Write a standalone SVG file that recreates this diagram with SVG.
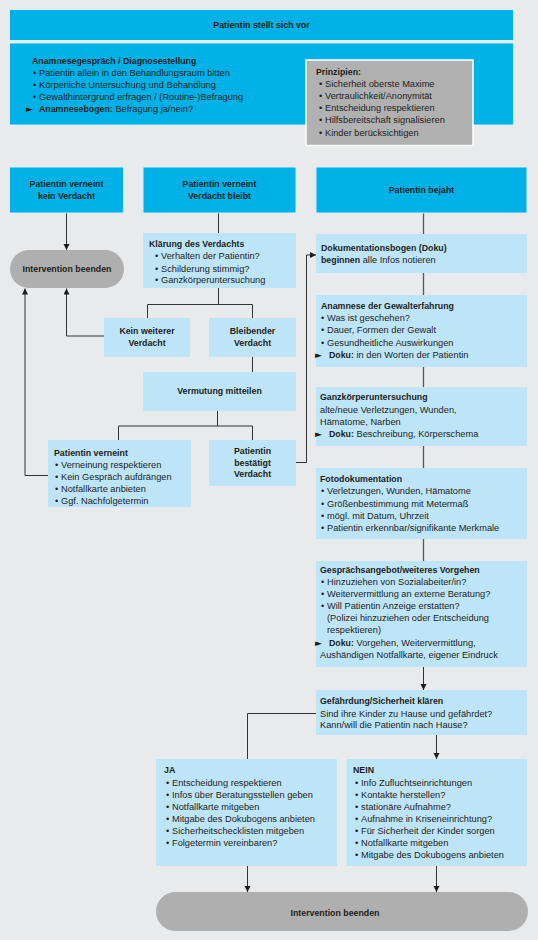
<svg xmlns="http://www.w3.org/2000/svg" width="538" height="940" viewBox="0 0 538 940">
<defs>
<style>
.bg{fill:#e9eaec}
.cy{fill:#00b1e8;stroke:#d6eef8;stroke-width:1}
.lb{fill:#bee5f7}
.gr{fill:#afafb0}
.pr{fill:#b1b1b2;stroke:#ffffff;stroke-width:1.5}
text{font-family:"Liberation Sans",Arial,sans-serif;font-size:9.25px;fill:#1d1d1b}
.b{font-weight:bold;font-size:8.8px}
.m{text-anchor:middle}
.ar{font-family:"DejaVu Sans",sans-serif;font-size:9px}
.ln{fill:none;stroke:#333;stroke-width:1}
.lg{fill:none;stroke:#555;stroke-width:1.3}
</style>
<marker id="ah" markerUnits="userSpaceOnUse" markerWidth="7" markerHeight="7" refX="6" refY="3" orient="auto">
<path d="M0,0 L6,3 L0,6 z" fill="#1d1d1b"/>
</marker>
</defs>
<rect class="bg" x="0" y="0" width="538" height="940"/>

<g id="connectors">
<path class="ln" d="M66.5,213 V250" marker-end="url(#ah)"/>
<path class="ln" d="M218.5,213 V233"/>
<path class="ln" d="M218.5,288 V304.5 M147.5,318 V304.5 H252.5 V318"/>
<path class="ln" d="M104,336 H66.5 V288.5" marker-end="url(#ah)"/>
<path class="ln" d="M252.5,357 V372"/>
<path class="ln" d="M217.5,411 V426 M118.5,440 V426 H252.5 V440"/>
<path class="ln" d="M48,475.5 H25 V288.5" marker-end="url(#ah)"/>
<path class="ln" d="M296,462.5 H306.5 V255 H316" marker-end="url(#ah)"/>
<path class="lg" d="M423.5,213 V234 M423.5,273 V295 M423.5,367 V387 M423.5,446 V468 M423.5,539 V561"/>
<path class="ln" d="M423.5,667 V690" marker-end="url(#ah)"/>
<path class="ln" d="M316,713.5 H247.5 V759"/>
<path class="ln" d="M436.5,735 V759" marker-end="url(#ah)"/>
<path class="ln" d="M247.5,866 V892" marker-end="url(#ah)"/>
<path class="ln" d="M436.5,866 V892" marker-end="url(#ah)"/>
</g>

<g id="start">
<rect class="cy" x="9.5" y="9.5" width="504" height="31"/>
<text class="b m" x="261.5" y="28.3">Patientin stellt sich vor</text>
</g>

<g id="anamnese">
<rect class="cy" x="9.5" y="43" width="504" height="82"/>
<text class="b" x="32" y="64">Anamnesegespräch / Diagnosestellung</text>
<text x="33" y="75.6">•</text><text x="39" y="75.6">Patientin allein in den Behandlungsraum bitten</text>
<text x="33" y="87.6">•</text><text x="39" y="87.6">Körperliche Untersuchung und Behandlung</text>
<text x="33" y="100">•</text><text x="39" y="100">Gewalthintergrund erfragen / (Routine-)Befragung</text>
<text class="ar" x="26" y="112.2">►</text><text x="39" y="112"><tspan class="b">Anamnesebogen:</tspan> Befragung ja/nein?</text>
</g>

<g id="prinzipien">
<rect class="pr" x="306" y="60" width="167" height="85.5"/>
<text class="b" x="316" y="74.5">Prinzipien:</text>
<text x="319" y="86.6">•</text><text x="325" y="86.6">Sicherheit oberste Maxime</text>
<text x="319" y="99">•</text><text x="325" y="99">Vertraulichkeit/Anonymität</text>
<text x="319" y="111">•</text><text x="325" y="111">Entscheidung respektieren</text>
<text x="319" y="123.3">•</text><text x="325" y="123.3">Hilfsbereitschaft signalisieren</text>
<text x="319" y="135.6">•</text><text x="325" y="135.6">Kinder berücksichtigen</text>
</g>

<g id="verneint-kein">
<rect class="cy" x="9.5" y="167" width="114" height="46"/>
<text class="b m" x="66.5" y="187.3">Patientin verneint</text>
<text class="b m" x="66.5" y="198.8">kein Verdacht</text>
</g>

<g id="verneint-bleibt">
<rect class="cy" x="143" y="167" width="153" height="46"/>
<text class="b m" x="219.5" y="187.3">Patientin verneint</text>
<text class="b m" x="219.5" y="198.8">Verdacht bleibt</text>
</g>

<g id="bejaht">
<rect class="cy" x="316" y="167" width="211" height="46"/>
<text class="b m" x="421.5" y="193.3">Patientin bejaht</text>
</g>

<g id="intervention-top">
<rect class="gr" x="10" y="250" width="114" height="38" rx="19"/>
<text class="b m" x="67" y="272.3">Intervention beenden</text>
</g>

<g id="klaerung">
<rect class="lb" x="143" y="233" width="153" height="55"/>
<text class="b" x="149" y="246.6">Klärung des Verdachts</text>
<text x="155" y="259.3">•</text><text x="161" y="259.3">Verhalten der Patientin?</text>
<text x="155" y="271.6">•</text><text x="161" y="271.6">Schilderung stimmig?</text>
<text x="155" y="283.3">•</text><text x="161" y="283.3">Ganzkörperuntersuchung</text>
</g>

<g id="kein-weiterer">
<rect class="lb" x="104" y="318" width="86" height="39"/>
<text class="b m" x="147" y="334.3">Kein weiterer</text>
<text class="b m" x="147" y="346">Verdacht</text>
</g>

<g id="bleibender">
<rect class="lb" x="209" y="318" width="87" height="39"/>
<text class="b m" x="252.5" y="334.3">Bleibender</text>
<text class="b m" x="252.5" y="346">Verdacht</text>
</g>

<g id="vermutung">
<rect class="lb" x="143" y="372" width="153" height="39"/>
<text class="b m" x="219.5" y="394.3">Vermutung mitteilen</text>
</g>

<g id="patientin-verneint">
<rect class="lb" x="48" y="440" width="143" height="67"/>
<text class="b" x="54" y="455.6">Patientin verneint</text>
<text x="55" y="467.6">•</text><text x="61" y="467.6">Verneinung respektieren</text>
<text x="55" y="479.6">•</text><text x="61" y="479.6">Kein Gespräch aufdrängen</text>
<text x="55" y="492">•</text><text x="61" y="492">Notfallkarte anbieten</text>
<text x="55" y="504">•</text><text x="61" y="504">Ggf. Nachfolgetermin</text>
</g>

<g id="bestaetigt">
<rect class="lb" x="209" y="440" width="87" height="46"/>
<text class="b m" x="252.5" y="454.3">Patientin</text>
<text class="b m" x="252.5" y="465.8">bestätigt</text>
<text class="b m" x="252.5" y="477.3">Verdacht</text>
</g>

<g id="doku">
<rect class="lb" x="316" y="234" width="211" height="39"/>
<text class="b" x="321" y="250.6">Dokumentationsbogen (Doku)</text>
<text x="321" y="262.6"><tspan class="b">beginnen</tspan> alle Infos notieren</text>
</g>

<g id="gewalterfahrung">
<rect class="lb" x="316" y="295" width="211" height="72"/>
<text class="b" x="321" y="309.3">Anamnese der Gewalterfahrung</text>
<text x="321" y="320.8">•</text><text x="327" y="320.8">Was ist geschehen?</text>
<text x="321" y="333.3">•</text><text x="327" y="333.3">Dauer, Formen der Gewalt</text>
<text x="321" y="345.6">•</text><text x="327" y="345.6">Gesundheitliche Auswirkungen</text>
<text class="ar" x="315" y="357.8">►</text><text x="329" y="357.6"><tspan class="b">Doku:</tspan> in den Worten der Patientin</text>
</g>

<g id="ganzkoerper">
<rect class="lb" x="316" y="387" width="211" height="59"/>
<text class="b" x="320" y="400">Ganzkörperuntersuchung</text>
<text x="320" y="413.3">alte/neue Verletzungen, Wunden,</text>
<text x="320" y="425">Hämatome, Narben</text>
<text class="ar" x="315" y="436.8">►</text><text x="329" y="436.6"><tspan class="b">Doku:</tspan> Beschreibung, Körperschema</text>
</g>

<g id="foto">
<rect class="lb" x="316" y="468" width="211" height="71"/>
<text class="b" x="320" y="482">Fotodokumentation</text>
<text x="321" y="494">•</text><text x="327" y="494">Verletzungen, Wunden, Hämatome</text>
<text x="321" y="506.6">•</text><text x="327" y="506.6">Größenbestimmung mit Metermaß</text>
<text x="321" y="518.6">•</text><text x="327" y="518.6">mögl. mit Datum, Uhrzeit</text>
<text x="321" y="530.6">•</text><text x="327" y="530.6">Patientin erkennbar/signifikante Merkmale</text>
</g>

<g id="gespraech">
<rect class="lb" x="316" y="561" width="211" height="106"/>
<text class="b" x="320" y="573.3">Gesprächsangebot/weiteres Vorgehen</text>
<text x="321" y="585">•</text><text x="327" y="585">Hinzuziehen von Sozialabeiter/in?</text>
<text x="321" y="597.3">•</text><text x="327" y="597.3">Weitervermittlung an externe Beratung?</text>
<text x="321" y="609.3">•</text><text x="327" y="609.3">Will Patientin Anzeige erstatten?</text>
<text x="327" y="621.3">(Polizei hinzuziehen oder Entscheidung</text>
<text x="327" y="633.3">respektieren)</text>
<text class="ar" x="315" y="646.2">►</text><text x="329" y="646"><tspan class="b">Doku:</tspan> Vorgehen, Weitervermittlung,</text>
<text x="320" y="658.3">Aushändigen Notfallkarte, eigener Eindruck</text>
</g>

<g id="gefaehrdung">
<rect class="lb" x="316" y="690" width="211" height="45"/>
<text class="b" x="320" y="704">Gefährdung/Sicherheit klären</text>
<text x="320" y="716.6">Sind ihre Kinder zu Hause und gefährdet?</text>
<text x="320" y="728.3">Kann/will die Patientin nach Hause?</text>
</g>

<g id="ja">
<rect class="lb" x="156" y="759" width="181" height="107"/>
<text class="b" x="164" y="773.3">JA</text>
<text x="166" y="785.6">•</text><text x="172" y="785.6">Entscheidung respektieren</text>
<text x="166" y="797.6">•</text><text x="172" y="797.6">Infos über Beratungsstellen geben</text>
<text x="166" y="809.6">•</text><text x="172" y="809.6">Notfallkarte mitgeben</text>
<text x="166" y="821.6">•</text><text x="172" y="821.6">Mitgabe des Dokubogens anbieten</text>
<text x="166" y="834">•</text><text x="172" y="834">Sicherheitschecklisten mitgeben</text>
<text x="166" y="845.6">•</text><text x="172" y="845.6">Folgetermin vereinbaren?</text>
</g>

<g id="nein">
<rect class="lb" x="346.5" y="759" width="180.5" height="107"/>
<text class="b" x="353" y="773.3">NEIN</text>
<text x="355" y="785.6">•</text><text x="361" y="785.6">Info Zufluchtseinrichtungen</text>
<text x="355" y="797.6">•</text><text x="361" y="797.6">Kontakte herstellen?</text>
<text x="355" y="809.6">•</text><text x="361" y="809.6">stationäre Aufnahme?</text>
<text x="355" y="821.6">•</text><text x="361" y="821.6">Aufnahme in Kriseneinrichtung?</text>
<text x="355" y="834">•</text><text x="361" y="834">Für Sicherheit der Kinder sorgen</text>
<text x="355" y="845.6">•</text><text x="361" y="845.6">Notfallkarte mitgeben</text>
<text x="355" y="858">•</text><text x="361" y="858">Mitgabe des Dokubogens anbieten</text>
</g>

<g id="intervention-bottom">
<rect class="gr" x="156" y="892" width="372" height="39" rx="19.5"/>
<text class="b m" x="335" y="915.6">Intervention beenden</text>
</g>
</svg>
